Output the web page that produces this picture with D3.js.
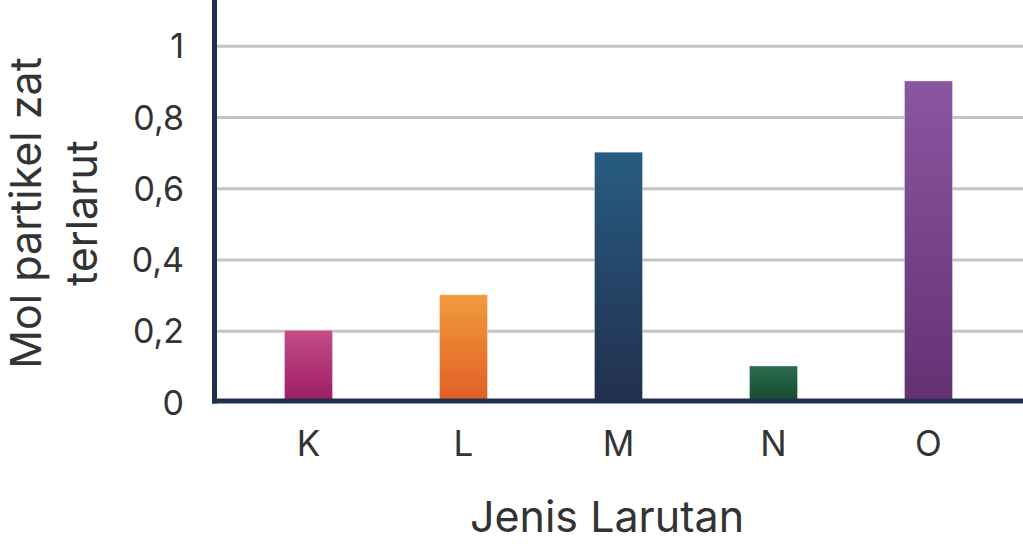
<!DOCTYPE html>
<html>
<head>
<meta charset="utf-8">
<script src="https://cdn.jsdelivr.net/npm/d3@7"></script>
<style>
body { margin: 0; background: #fff; }
svg { display: block; font-family: Inter, "Open Sans", sans-serif; }
</style>
</head>
<body>
<svg id="chart" width="1023" height="547"></svg>
<script>
// data
var categories = ["K", "L", "M", "N", "O"];
var values = [0.2, 0.3, 0.7, 0.1, 0.9];
var yTicks = [0, 0.2, 0.4, 0.6, 0.8, 1];
var yTickLabels = ["0", "0,2", "0,4", "0,6", "0,8", "1"];
var topColors = ["#c54c87", "#f09b3b", "#285c82", "#2a7050", "#8b56a1"];
var bottomColors = ["#9a1d62", "#e15e26", "#222f4d", "#16452e", "#633172"];

var svg = d3.select("#chart");
var axisColor = "#22304f";
var textColor = "#333333";

var x = d3.scaleBand()
  .domain(categories)
  .range([231, 1006])
  .paddingInner(0.69)
  .paddingOuter(0.345);

var y = d3.scaleLinear()
  .domain([0, 1.13])
  .range([402.6, 0]);

// gradients
var defs = svg.append("defs");
categories.forEach(function (c, i) {
  var g = defs.append("linearGradient")
    .attr("id", "grad" + c)
    .attr("x1", 0).attr("y1", 0).attr("x2", 0).attr("y2", 1);
  g.append("stop").attr("offset", "0%").attr("stop-color", topColors[i]);
  g.append("stop").attr("offset", "100%").attr("stop-color", bottomColors[i]);
});

// grid
svg.append("g")
  .selectAll("line")
  .data(yTicks.slice(1))
  .enter().append("line")
  .attr("x1", 217).attr("x2", 1023)
  .attr("y1", function (d) { return y(d); })
  .attr("y2", function (d) { return y(d); })
  .attr("stroke", "#c4c4c4")
  .attr("stroke-width", 3);

// bars
svg.append("g")
  .selectAll("rect")
  .data(values)
  .enter().append("rect")
  .attr("x", function (d, i) { return x(categories[i]); })
  .attr("width", x.bandwidth())
  .attr("y", function (d) { return y(d) - 1; })
  .attr("height", function (d) { return y(0) - y(d) + 1; })
  .attr("fill", function (d, i) { return "url(#grad" + categories[i] + ")"; })
  .attr("stroke", "#ffffff")
  .attr("stroke-opacity", 0.35)
  .attr("stroke-width", 1);

// axis lines
svg.append("line")
  .attr("x1", 212).attr("x2", 1023)
  .attr("y1", 401).attr("y2", 401)
  .attr("stroke", axisColor).attr("stroke-width", 5);
svg.append("line")
  .attr("x1", 214.5).attr("x2", 214.5)
  .attr("y1", 0).attr("y2", 403.5)
  .attr("stroke", axisColor).attr("stroke-width", 5);

// y tick labels
svg.append("g")
  .selectAll("text")
  .data(yTicks)
  .enter().append("text")
  .attr("x", 184)
  .attr("y", function (d) { return y(d) + 12; })
  .attr("text-anchor", "end")
  .attr("font-size", 34)
  .attr("fill", textColor)
  .text(function (d, i) { return yTickLabels[i]; });

// x tick labels
svg.append("g")
  .selectAll("text")
  .data(categories)
  .enter().append("text")
  .attr("x", function (d) { return x(d) + x.bandwidth() / 2; })
  .attr("y", 456)
  .attr("text-anchor", "middle")
  .attr("font-size", 35)
  .attr("fill", textColor)
  .text(function (d) { return d; });

// axis titles
svg.append("text")
  .attr("x", 607)
  .attr("y", 532)
  .attr("text-anchor", "middle")
  .attr("font-size", 43)
  .attr("fill", textColor)
  .text("Jenis Larutan");

var yTitle = svg.append("text")
  .attr("transform", "translate(0,213) rotate(-90)")
  .attr("text-anchor", "middle")
  .attr("font-size", 43)
  .attr("fill", textColor);
yTitle.append("tspan").attr("x", 0).attr("y", 41).text("Mol partikel zat");
yTitle.append("tspan").attr("x", 0).attr("y", 97).text("terlarut");
</script>
</body>
</html>
